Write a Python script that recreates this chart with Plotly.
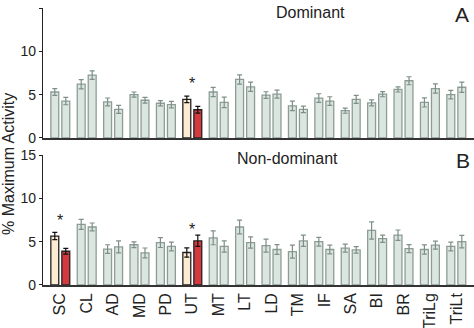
import plotly.graph_objects as go

muscles = ["SC", "CL", "AD", "MD", "PD", "UT", "MT", "LT", "LD", "TM", "IF", "SA", "BI", "BR", "TriLg", "TriLt"]

# Panel A - Dominant
dom_a = [5.3, 6.2, 4.15, 5.0, 4.0, 4.45, 5.3, 6.75, 4.95, 3.7, 4.6, 3.15, 4.05, 5.6, 4.1, 5.0]
dom_a_err = [0.38, 0.53, 0.46, 0.3, 0.3, 0.38, 0.53, 0.53, 0.38, 0.55, 0.5, 0.3, 0.34, 0.3, 0.53, 0.5]
dom_b = [4.25, 7.25, 3.3, 4.35, 3.85, 3.25, 4.1, 5.9, 5.05, 3.3, 4.25, 4.45, 5.05, 6.6, 5.7, 5.85]
dom_b_err = [0.42, 0.5, 0.46, 0.34, 0.38, 0.38, 0.6, 0.53, 0.46, 0.38, 0.5, 0.46, 0.3, 0.46, 0.53, 0.6]

# Panel B - Non-dominant
nd_a = [5.65, 7.0, 4.15, 4.65, 4.9, 3.75, 5.45, 6.7, 4.55, 3.85, 5.0, 4.25, 6.3, 5.75, 4.1, 4.45]
nd_a_err = [0.42, 0.57, 0.5, 0.34, 0.57, 0.53, 0.8, 0.8, 0.75, 0.75, 0.5, 0.46, 1.0, 0.6, 0.53, 0.5]
nd_b = [3.9, 6.7, 4.4, 3.7, 4.45, 5.1, 4.45, 4.9, 4.1, 5.1, 4.1, 4.05, 5.35, 4.2, 4.6, 5.0]
nd_b_err = [0.34, 0.46, 0.69, 0.57, 0.5, 0.65, 0.65, 0.65, 0.57, 0.65, 0.5, 0.38, 0.42, 0.46, 0.46, 0.72]

# highlighted (significant) muscles per panel
sig_dom = ["UT"]
sig_nd = ["SC", "UT"]

GRAY_FILL = "#dbe6e1"
GRAY_LINE = "#8d9d96"
CREAM = "#fdebd2"
RED = "#d4393e"


def styles(sig, first):
    fills, lines = [], []
    for m in muscles:
        if m in sig:
            fills.append(CREAM if first else RED)
            lines.append("#222222")
        else:
            fills.append(GRAY_FILL)
            lines.append(GRAY_LINE)
    return fills, lines


fig = go.Figure()


def add_pair(vals_a, err_a, vals_b, err_b, sig, xa, ya):
    for vals, first in ((vals_a, True), (vals_b, False)):
        fills, lines = styles(sig, first)
        fig.add_trace(go.Bar(
            x=muscles, y=vals, xaxis=xa, yaxis=ya,
            marker=dict(color=fills, line=dict(color=lines, width=1.3)),
            offsetgroup="a" if first else "b",
            showlegend=False, hoverinfo="skip"))
    # error bars as separate transparent traces so their colors can differ
    for vals, err, first in ((vals_a, err_a, True), (vals_b, err_b, False)):
        for highlight in (False, True):
            yv = [v if ((m in sig) == highlight) else None for m, v in zip(muscles, vals)]
            ev = [e if ((m in sig) == highlight) else 0 for m, e in zip(muscles, err)]
            fig.add_trace(go.Bar(
                x=muscles, y=yv, xaxis=xa, yaxis=ya,
                offsetgroup="a" if first else "b",
                marker=dict(color="rgba(0,0,0,0)", line=dict(width=0)),
                error_y=dict(type="data", array=ev, visible=True, width=2.5,
                             thickness=1.2, color="#111111" if highlight else "#7f8f88"),
                showlegend=False, hoverinfo="skip"))


add_pair(dom_a, dom_a_err, dom_b, dom_b_err, sig_dom, "x", "y")
add_pair(nd_a, nd_a_err, nd_b, nd_b_err, sig_nd, "x2", "y2")

axis_font = dict(family="Liberation Sans, Arial, sans-serif", size=16, color="#222222")
ytick_font = dict(family="Liberation Sans, Arial, sans-serif", size=14, color="#222222")
xr = [-0.655, 15.67]

fig.update_layout(
    width=474, height=328,
    margin=dict(l=43, r=0, t=8, b=43),
    paper_bgcolor="white", plot_bgcolor="white",
    barmode="group", bargap=0.167, bargroupgap=0.28,
    font=axis_font,
    xaxis=dict(domain=[0, 1], anchor="y", range=xr, showticklabels=False, ticks="",
               showline=True, linecolor="#333333", linewidth=1.5, showgrid=False,
               categoryorder="array", categoryarray=muscles),
    yaxis=dict(domain=[0.531, 1], anchor="x", range=[0, 15], tickvals=[0, 5, 10, 15],
               ticks="outside", ticklen=3, tickwidth=1.2, tickcolor="#222222",
               showline=True, linecolor="#222222", linewidth=1.3, showgrid=False,
               zeroline=False, tickfont=ytick_font),
    xaxis2=dict(domain=[0, 1], anchor="y2", range=xr, tickangle=-90, ticks="",
                showline=True, linecolor="#333333", linewidth=1.5, showgrid=False,
                tickfont=axis_font, categoryorder="array", categoryarray=muscles),
    yaxis2=dict(domain=[0, 0.469], anchor="x2", range=[0, 15], tickvals=[0, 5, 10, 15],
                ticks="outside", ticklen=3, tickwidth=1.2, tickcolor="#222222",
                showline=True, linecolor="#222222", linewidth=1.3, showgrid=False,
                zeroline=False, tickfont=ytick_font),
)

txt = dict(family="Liberation Sans, Arial, sans-serif", color="#222222")
ann = [
    dict(text="Dominant", x=0.620, y=0.982, size=16),
    dict(text="A", x=0.972, y=0.975, size=21),
    dict(text="Non-dominant", x=0.567, y=0.458, size=16),
    dict(text="B", x=0.975, y=0.451, size=21),
]
for a in ann:
    fig.add_annotation(text=a["text"], xref="paper", yref="paper", x=a["x"], y=a["y"],
                       showarrow=False, xanchor="center", yanchor="middle",
                       font=dict(size=a["size"], **txt))

fig.add_annotation(text="% Maximum Activity", xref="paper", yref="paper",
                   x=0, xshift=-34, y=0.437, textangle=-90, showarrow=False,
                   xanchor="center", yanchor="middle", font=dict(size=16, **txt))

# significance stars
stars = [("x", "y", "UT", 6.3), ("x2", "y2", "SC", 7.5), ("x2", "y2", "UT", 6.4)]
for xa, ya, m, yv in stars:
    fig.add_annotation(text="*", xref=xa, yref=ya, x=m, y=yv, showarrow=False,
                       xanchor="center", yanchor="middle", font=dict(size=16, **txt))

fig.write_html("out.html")
